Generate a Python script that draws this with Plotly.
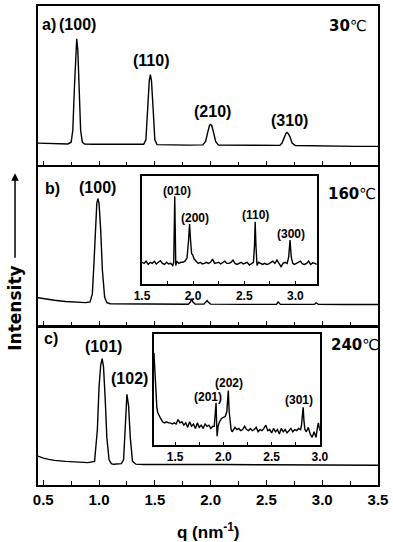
import plotly.graph_objects as go

# ---------------- data (q in nm^-1, intensity in arbitrary units per panel) -------------
# Panel a) 30 C
q_a = [0.453, 0.55, 0.65, 0.72, 0.75, 0.765, 0.78, 0.79, 0.80, 0.81, 0.82, 0.835, 0.85, 0.87, 0.95,
       1.10, 1.30, 1.40, 1.42, 1.435, 1.45, 1.46, 1.47, 1.485, 1.50, 1.52, 1.60,
       1.80, 1.93, 1.955, 1.975, 1.99, 2.00, 2.01, 2.025, 2.045, 2.07, 2.20,
       2.50, 2.62, 2.64, 2.66, 2.675, 2.685, 2.695, 2.71, 2.73, 2.76, 2.90, 3.10, 3.30, 3.50]
I_a = [0.139, 0.137, 0.135, 0.134, 0.145, 0.22, 0.50, 0.72, 0.794, 0.72, 0.50, 0.22, 0.145, 0.133, 0.132,
       0.131, 0.130, 0.132, 0.16, 0.35, 0.53, 0.569, 0.53, 0.35, 0.16, 0.130, 0.128,
       0.127, 0.128, 0.15, 0.21, 0.25, 0.256, 0.25, 0.21, 0.15, 0.127, 0.126,
       0.125, 0.125, 0.14, 0.18, 0.20, 0.206, 0.20, 0.18, 0.14, 0.124, 0.122, 0.120, 0.119, 0.119]

# Panel b) 160 C
q_b = [0.453, 0.5, 0.6, 0.7, 0.8, 0.88, 0.92, 0.94, 0.955, 0.97, 0.98, 0.99, 1.0, 1.015, 1.03, 1.05, 1.07,
       1.1, 1.3, 1.6, 1.8, 1.82, 1.83, 1.84, 1.86, 1.94, 1.96, 1.97, 1.98, 2.0, 2.3, 2.59, 2.605, 2.612,
       2.625, 2.7, 2.93, 2.945, 2.952, 2.965, 3.2, 3.5]
I_b = [0.176, 0.170, 0.160, 0.152, 0.147, 0.145, 0.15, 0.2, 0.4, 0.65, 0.77, 0.80, 0.77, 0.6, 0.35, 0.18, 0.145,
       0.138, 0.136, 0.135, 0.135, 0.15, 0.17, 0.15, 0.136, 0.136, 0.15, 0.158, 0.148, 0.136, 0.134, 0.134, 0.15, 0.146,
       0.134, 0.134, 0.134, 0.144, 0.14, 0.134, 0.133, 0.133]

# Inset of panel b
q_bi = [1.50, 1.52, 1.54, 1.56, 1.58, 1.60, 1.62, 1.64, 1.66, 1.68, 1.70, 1.72, 1.74, 1.76, 1.78, 1.80,
        1.81, 1.815, 1.82, 1.825, 1.83, 1.84, 1.86, 1.88, 1.90, 1.92, 1.94, 1.955, 1.965, 1.975, 1.985,
        1.995, 2.01, 2.03, 2.05, 2.07, 2.09, 2.11, 2.13, 2.15, 2.17, 2.19, 2.21, 2.23, 2.25, 2.27, 2.29,
        2.31, 2.33, 2.35, 2.37, 2.39, 2.41, 2.43, 2.45, 2.47, 2.49, 2.51, 2.53, 2.55, 2.57, 2.59, 2.600,
        2.607, 2.615, 2.625, 2.64, 2.66, 2.68, 2.70, 2.72, 2.74, 2.76, 2.78, 2.80, 2.82, 2.84, 2.86, 2.88,
        2.90, 2.92, 2.935, 2.948, 2.96, 2.975, 2.99, 3.01, 3.03, 3.05, 3.07, 3.09, 3.11, 3.13, 3.15, 3.17,
        3.19, 3.21]
I_bi = [0.20, 0.19, 0.21, 0.18, 0.20, 0.19, 0.21, 0.185, 0.20, 0.215, 0.19, 0.18, 0.20, 0.185, 0.19, 0.17,
        0.20, 0.5, 0.815, 0.5, 0.17, 0.21, 0.19, 0.20, 0.20, 0.21, 0.24, 0.40, 0.556, 0.40, 0.28,
        0.27, 0.23, 0.21, 0.19, 0.20, 0.185, 0.19, 0.20, 0.19, 0.20, 0.23, 0.19, 0.195, 0.20, 0.185, 0.195,
        0.21, 0.19, 0.19, 0.20, 0.22, 0.19, 0.18, 0.19, 0.20, 0.185, 0.19, 0.20, 0.175, 0.19, 0.20, 0.35,
        0.577, 0.35, 0.17, 0.20, 0.19, 0.18, 0.19, 0.18, 0.185, 0.20, 0.21, 0.19, 0.22, 0.19, 0.16, 0.19,
        0.20, 0.19, 0.25, 0.407, 0.25, 0.19, 0.18, 0.19, 0.20, 0.21, 0.185, 0.18, 0.19, 0.21, 0.18, 0.195,
        0.19, 0.18]

# Panel c) 240 C
q_c = [0.453, 0.5, 0.55, 0.6, 0.7, 0.8, 0.9, 0.96, 0.985, 1.0, 1.015, 1.028, 1.04, 1.055, 1.07, 1.09, 1.11,
       1.13, 1.15, 1.2, 1.22, 1.235, 1.25, 1.265, 1.28, 1.30, 1.33, 1.4, 1.6, 2.0, 2.05, 2.1, 2.5, 3.0, 3.5]
I_c = [0.183, 0.17, 0.162, 0.156, 0.150, 0.145, 0.142, 0.15, 0.35, 0.62, 0.76, 0.80, 0.75, 0.55, 0.30, 0.16, 0.135,
       0.131, 0.132, 0.135, 0.16, 0.40, 0.575, 0.50, 0.30, 0.15, 0.132, 0.130, 0.130, 0.130, 0.133, 0.130, 0.128,
       0.126, 0.125]

# Inset of panel c
q_ci = [1.28, 1.29, 1.30, 1.31, 1.32, 1.33, 1.34, 1.35, 1.37, 1.39, 1.41, 1.43, 1.45, 1.47, 1.49, 1.51,
        1.53, 1.55, 1.57, 1.59, 1.61, 1.63, 1.65, 1.67, 1.69, 1.71, 1.73, 1.75, 1.77, 1.79, 1.81, 1.83,
        1.85, 1.87, 1.89, 1.905, 1.915, 1.924, 1.93, 1.935, 1.945, 1.96, 1.98, 2.00, 2.02, 2.035, 2.045,
        2.051, 2.06, 2.07, 2.08, 2.09, 2.10, 2.12, 2.14, 2.16, 2.18, 2.20, 2.22, 2.24, 2.26, 2.28, 2.30,
        2.32, 2.34, 2.36, 2.38, 2.40, 2.42, 2.44, 2.46, 2.48, 2.50, 2.52, 2.54, 2.56, 2.58, 2.60, 2.62,
        2.64, 2.66, 2.68, 2.70, 2.72, 2.74, 2.76, 2.78, 2.80, 2.81, 2.82, 2.827, 2.835, 2.845, 2.86, 2.88,
        2.90, 2.92, 2.94, 2.96, 2.975, 2.985, 3.00]
I_ci = [0.83, 0.65, 0.45, 0.34, 0.29, 0.27, 0.25, 0.24, 0.21, 0.20, 0.21, 0.20, 0.20, 0.19, 0.20, 0.19,
        0.23, 0.20, 0.21, 0.18, 0.20, 0.16, 0.21, 0.17, 0.19, 0.15, 0.20, 0.16, 0.18, 0.15, 0.19, 0.17,
        0.18, 0.15, 0.17, 0.17, 0.28, 0.38, 0.20, 0.08, 0.17, 0.21, 0.24, 0.25, 0.26, 0.30, 0.45,
        0.49, 0.30, 0.18, 0.14, 0.12, 0.13, 0.16, 0.14, 0.15, 0.13, 0.14, 0.17, 0.14, 0.13, 0.15, 0.13,
        0.14, 0.16, 0.12, 0.14, 0.13, 0.15, 0.18, 0.13, 0.14, 0.11, 0.15, 0.12, 0.14, 0.10, 0.15, 0.12,
        0.14, 0.11, 0.13, 0.15, 0.12, 0.14, 0.13, 0.15, 0.14, 0.18, 0.28, 0.34, 0.22, 0.14, 0.12, 0.16,
        0.10, 0.07, 0.12, 0.07, 0.16, 0.20, 0.13]

main_ticks = [0.5, 1.0, 1.5, 2.0, 2.5, 3.0, 3.5]
main_ticktext = ["0.5", "1.0", "1.5", "2.0", "2.5", "3.0", "3.5"]
inset_ticks = [1.5, 2.0, 2.5, 3.0]
inset_ticktext = ["1.5", "2.0", "2.5", "3.0"]

# labels: (text, q, intensity)
labels_a = [("(100)", 0.81, 0.883), ("(110)", 1.466, 0.66), ("(210)", 2.017, 0.3375), ("(310)", 2.709, 0.279)]
labels_b = [("(100)", 0.988, 0.87)]
labels_bi = [("(010)", 1.845, 0.861), ("(200)", 2.02, 0.614), ("(110)", 2.614, 0.636), ("(300)", 2.957, 0.46)]
labels_c = [("(101)", 1.042, 0.875), ("(102)", 1.269, 0.677)]
labels_ci = [("(201)", 1.836, 0.433), ("(202)", 2.06, 0.558), ("(301)", 2.78, 0.403)]

# ---------------- figure ----------------
FONT = "Liberation Sans, Arial, sans-serif"
line = dict(color="black", width=1.4)
fig = go.Figure()
fig.add_trace(go.Scatter(x=q_a, y=I_a, xaxis="x", yaxis="y", mode="lines", line=line))
fig.add_trace(go.Scatter(x=q_b, y=I_b, xaxis="x2", yaxis="y2", mode="lines", line=line))
fig.add_trace(go.Scatter(x=q_c, y=I_c, xaxis="x3", yaxis="y3", mode="lines", line=line))
fig.add_trace(go.Scatter(x=q_bi, y=I_bi, xaxis="x4", yaxis="y4", mode="lines", line=line))
fig.add_trace(go.Scatter(x=q_ci, y=I_ci, xaxis="x5", yaxis="y5", mode="lines", line=line))

XR = [0.453, 3.5]
dom_a = [0.6674, 1.0]
dom_b = [0.3326, 0.6643]
dom_c = [0.0, 0.3295]


def main_x(anchor, labels):
    return dict(domain=[0, 1], range=XR, anchor=anchor, showline=True, mirror=True,
                linecolor="black", linewidth=1.5, showgrid=False, zeroline=False,
                tickmode="array", tickvals=main_ticks, ticktext=main_ticktext,
                ticks="inside", ticklen=5, tickwidth=1.2, tickcolor="black",
                showticklabels=labels,
                tickfont=dict(family=FONT, size=15, color="black", weight="bold"),
                minor=dict(dtick=0.25, tick0=0.5, ticks="inside", ticklen=4, tickwidth=1.2,
                           tickcolor="black", showgrid=False))


def main_y(dom, anchor):
    return dict(domain=dom, range=[0, 1], anchor=anchor, showline=True, mirror=True,
                linecolor="black", linewidth=1.5, showgrid=False, zeroline=False,
                ticks="", showticklabels=False)


def inset_x(dom, rng, anchor):
    return dict(domain=dom, range=rng, anchor=anchor, showline=True, mirror=True,
                linecolor="black", linewidth=1.5, showgrid=False, zeroline=False,
                tickmode="array", tickvals=inset_ticks, ticktext=inset_ticktext,
                ticks="inside", ticklen=3, tickwidth=1, tickcolor="black",
                tickfont=dict(family=FONT, size=12, color="black", weight="bold"),
                minor=dict(dtick=0.25, tick0=1.5, ticks="inside", ticklen=3, tickwidth=1,
                           tickcolor="black", showgrid=False))


def inset_y(dom, anchor):
    return dict(domain=dom, range=[0, 1], anchor=anchor, showline=True, mirror=True,
                linecolor="black", linewidth=1.5, showgrid=False, zeroline=False,
                ticks="", showticklabels=False)


fig.update_layout(
    width=393, height=542,
    margin=dict(l=38, r=15, t=4, b=57),
    paper_bgcolor="white", plot_bgcolor="white",
    showlegend=False,
    xaxis=main_x("y", False), yaxis=main_y(dom_a, "x"),
    xaxis2=main_x("y2", False), yaxis2=main_y(dom_b, "x2"),
    xaxis3=main_x("y3", True), yaxis3=main_y(dom_c, "x3"),
    xaxis4=inset_x([0.306, 0.820], [1.5, 3.21], "y4"), yaxis4=inset_y([0.420, 0.6445], "x4"),
    xaxis5=inset_x([0.341, 0.829], [1.28, 3.0], "y5"), yaxis5=inset_y([0.0832, 0.3154], "x5"),
)

ann = []


def add_labels(lbls, xr, yr, size):
    for t, xx, yy in lbls:
        ann.append(dict(text="<b>%s</b>" % t, x=xx, y=yy, xref=xr, yref=yr, showarrow=False,
                        font=dict(family=FONT, size=size, color="black"),
                        xanchor="center", yanchor="middle"))


add_labels(labels_a, "x", "y", 16)
add_labels(labels_b, "x2", "y2", 16)
add_labels(labels_c, "x3", "y3", 16)
add_labels(labels_bi, "x4", "y4", 12)
add_labels(labels_ci, "x5", "y5", 12)

# panel letters and temperatures
for t, xx, yy, xr, yr in [("a)", 0.548, 0.883, "x", "y"), ("b)", 0.587, 0.863, "x2", "y2"),
                          ("c)", 0.567, 0.927, "x3", "y3")]:
    ann.append(dict(text="<b>%s</b>" % t, x=xx, y=yy, xref=xr, yref=yr, showarrow=False,
                    font=dict(family=FONT, size=16, color="black")))
for t, xx, yy, xr, yr in [("30", 3.234, 0.875, "x", "y"), ("160", 3.268, 0.828, "x2", "y2"),
                          ("240", 3.29, 0.886, "x3", "y3")]:
    ann.append(dict(text="<b>%s</b>℃" % t, x=xx, y=yy, xref=xr, yref=yr, showarrow=False,
                    font=dict(family="DejaVu Sans, sans-serif", size=15, color="black")))

# axis titles
ann.append(dict(text="<b>q (nm<sup>-1</sup>)</b>", x=0.5, y=-0.097, xref="paper", yref="paper",
                showarrow=False, font=dict(family=FONT, size=17, color="black"),
                xanchor="center", yanchor="middle"))
ann.append(dict(text="<b>Intensity</b>", x=-0.0676, y=0.368, xref="paper", yref="paper",
                showarrow=False, textangle=-90,
                font=dict(family="DejaVu Sans, sans-serif", size=17, color="black"),
                xanchor="center", yanchor="middle"))
ann.append(dict(text="", x=-0.0676, y=0.651, xref="paper", yref="paper", showarrow=True,
                ax=0, ay=86, axref="pixel", ayref="pixel", arrowhead=2, arrowsize=1,
                arrowwidth=1.5, arrowcolor="black"))

fig.update_layout(annotations=ann)
fig.write_html("out.html", config={"displayModeBar": False},
               post_script="document.body.style.margin='0';")
